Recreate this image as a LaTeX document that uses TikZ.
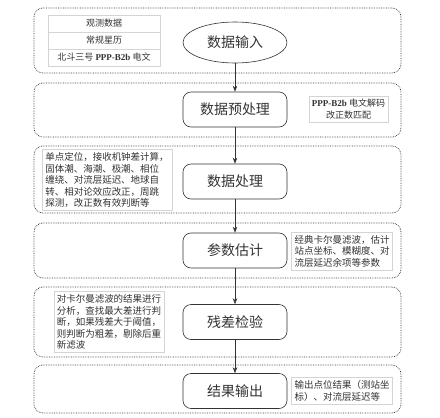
\documentclass[tikz,border=0pt]{standalone}
\usepackage{fontspec}
\setmainfont{Liberation Serif}
\newfontfamily\cjk{Noto Sans CJK SC}
\usetikzlibrary{shapes.geometric,arrows.meta}
\definecolor{ink}{HTML}{333333}
\definecolor{boxline}{HTML}{D4D4D4}
\tikzset{
  band/.style={draw=ink, densely dotted, line width=0.7pt, rounded corners=9pt, inner sep=0pt, minimum width=367pt},
  proc/.style={draw=ink, line width=0.6pt, rounded corners=8pt, minimum width=104pt, minimum height=35pt, inner sep=0pt, font=\cjk\fontsize{14}{16}\selectfont, text=ink},
  startnode/.style={draw=ink, ellipse, line width=0.6pt, minimum width=104pt, minimum height=41pt, inner sep=0pt, font=\cjk\fontsize{14}{16}\selectfont, text=ink},
  note/.style={draw=boxline, line width=0.5pt, fill=white, inner sep=3pt, align=left, font=\cjk\fontsize{9.5}{11.5}\selectfont, text=ink},
  cell/.style={draw=boxline, line width=0.5pt, minimum width=112pt, minimum height=17pt, inner sep=0pt, font=\cjk\fontsize{9}{10}\selectfont, text=ink},
  flow/.style={draw=ink, line width=0.6pt, -{Stealth[length=6pt,width=4.5pt]}}
}
\begin{document}
\begin{tikzpicture}[x=1pt,y=-1pt]
\useasboundingbox (0,0) rectangle (440,418);
% bands
\node[band, minimum height=65pt] (b1) at (217.5,40.5) {};
\node[band, minimum height=54pt] (b2) at (217.5,110) {};
\node[band, minimum height=67pt] (b3) at (217.5,179.5) {};
\node[band, minimum height=55pt] (b4) at (217.5,250.5) {};
\node[band, minimum height=70pt] (b5) at (217.5,322) {};
\node[band, minimum height=48pt] (b6) at (217.5,389) {};
% main flow
\node[startnode] (n1) at (235,42.5) {数据输入};
\node[proc] (n2) at (235,109.5) {数据预处理};
\node[proc] (n3) at (235,181.5) {数据处理};
\node[proc] (n4) at (235,250.5) {参数估计};
\node[proc] (n5) at (235,322) {残差检验};
\node[proc] (n6) at (235,391) {结果输出};
\draw[flow] (n1) -- (n2);
\draw[flow] (n2) -- (n3);
\draw[flow] (n3) -- (n4);
\draw[flow] (n4) -- (n5);
\draw[flow] (n5) -- (n6);
% input table
\node[cell] (t1) at (104,23.5) {观测数据};
\node[cell] (t2) at (104,40.5) {常规星历};
\node[cell] (t3) at (104,57.5) {北斗三号 {\rmfamily\bfseries PPP-B2b} 电文};
% notes
\node[note, align=center, font=\cjk\fontsize{9}{12}\selectfont] (m2) at (348.5,109.5) {{\rmfamily\bfseries PPP-B2b} 电文解码\\改正数匹配};
\node[note] (m3) at (107,180) {单点定位，接收机钟差计算，\\固体潮、海潮、极潮、相位\\缠绕、对流层延迟、地球自\\转、相对论效应改正，周跳\\探测，改正数有效判断等};
\node[note] (m4) at (342,251) {经典卡尔曼滤波，估计\\站点坐标、模糊度、对\\流层延迟余项等参数};
\node[note] (m5) at (109,322) {对卡尔曼滤波的结果进行\\分析，查找最大差进行判\\断，如果残差大于阈值，\\则判断为粗差，剔除后重\\新滤波};
\node[note] (m6) at (342,391) {输出点位结果（测站坐\\标）、对流层延迟等};
\end{tikzpicture}
\end{document}
